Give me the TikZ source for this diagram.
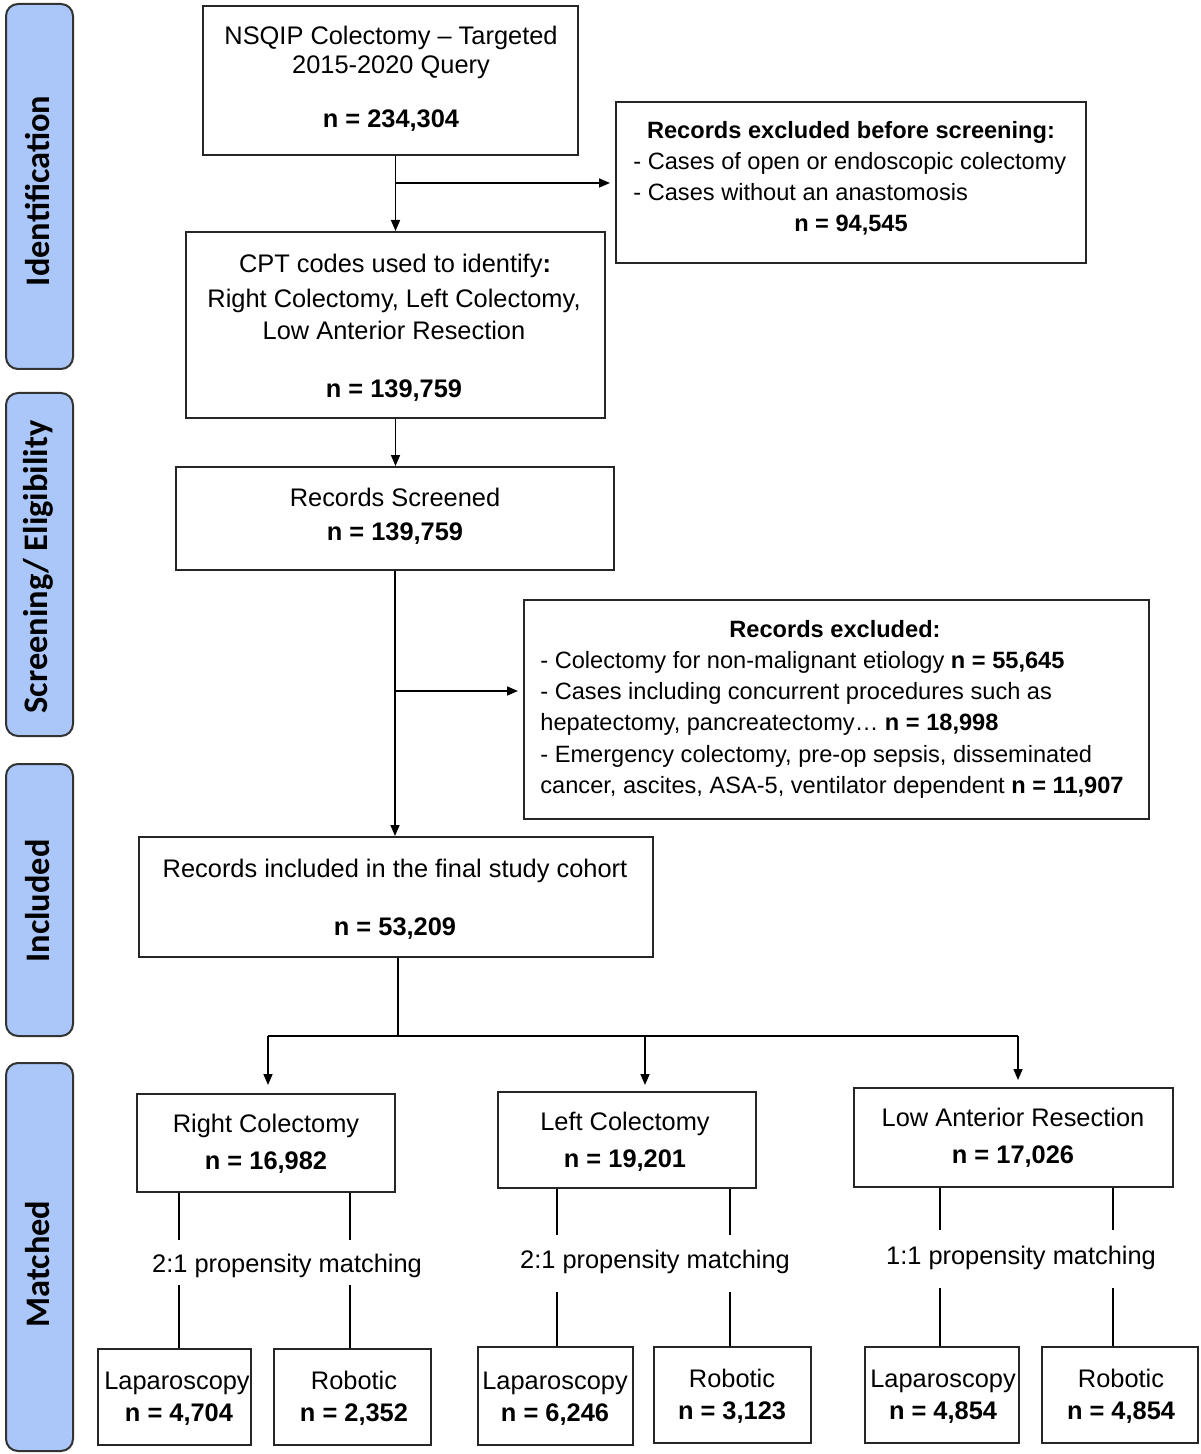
\documentclass[tikz,border=0pt]{standalone}
\usepackage{fontspec}
\setmainfont{Liberation Sans}
\newfontfamily\sidefont{Carlito}
\usetikzlibrary{arrows.meta}
\definecolor{sideblue}{RGB}{171,199,250}
\begin{document}
\begin{tikzpicture}[x=0.5pt,y=-0.5pt,
  box/.style={draw=black!85, line width=1pt, anchor=north west, inner sep=0pt},
  side/.style={draw=black!80, line width=1pt, fill=sideblue, rounded corners=6pt, anchor=north west, inner sep=0pt},
  lbl/.style={anchor=base, inner sep=0pt, font=\fontsize{12.7}{15}\selectfont},
  lbll/.style={lbl, anchor=base west},
  exl/.style={anchor=base, inner sep=0pt, font=\fontsize{11.8}{14}\selectfont},
  exll/.style={exl, anchor=base west},
  sidelbl/.style={rotate=90, inner sep=0pt, font=\sidefont\bfseries\fontsize{17.2}{20}\selectfont},
  arr/.style={-{Triangle[length=5.5pt,width=4.5pt]}, line width=0.8pt},
  ln/.style={line width=0.8pt}]
\useasboundingbox[fill=white] (0,0) rectangle (1200,1454);

% side bars
\node[side, minimum width=33.5pt, minimum height=182.5pt] (s1) at (5,3) {};
\node[side, minimum width=33.5pt, minimum height=171.5pt] (s2) at (5,392) {};
\node[side, minimum width=33.5pt, minimum height=136pt] (s3) at (5,763) {};
\node[side, minimum width=33.5pt, minimum height=194pt] (s4) at (5,1062) {};
\node[sidelbl] (sl1) at (38,191) {Identification};
\node[sidelbl] (sl2) at (38,567) {Screening/ Eligibility};
\node[sidelbl] (sl3) at (38,901) {Included};
\node[sidelbl] (sl4) at (38,1264) {Matched};

% boxes
\node[box, minimum width=187.5pt, minimum height=74.5pt] (b1) at (202,5) {};
\node[box, minimum width=235pt, minimum height=80.5pt] (ex1) at (615,101) {};
\node[box, minimum width=209.5pt, minimum height=93pt] (b2) at (185,231) {};
\node[box, minimum width=219pt, minimum height=51.5pt] (b3) at (175,466) {};
\node[box, minimum width=312.5pt, minimum height=109.5pt] (ex2) at (523,599) {};
\node[box, minimum width=257pt, minimum height=60pt] (b4) at (138,836) {};
\node[box, minimum width=129pt, minimum height=49pt] (r) at (136,1093) {};
\node[box, minimum width=129pt, minimum height=48pt] (l) at (497,1091) {};
\node[box, minimum width=159.5pt, minimum height=49.5pt] (lar) at (853,1087) {};
\node[box, minimum width=76.5pt, minimum height=48pt] (lap1) at (97,1348) {};
\node[box, minimum width=78.5pt, minimum height=48pt] (rob1) at (273,1348) {};
\node[box, minimum width=77.5pt, minimum height=49pt] (lap2) at (477,1346) {};
\node[box, minimum width=78.5pt, minimum height=48pt] (rob2) at (653,1346) {};
\node[box, minimum width=77pt, minimum height=48pt] (lap3) at (864,1346) {};
\node[box, minimum width=78pt, minimum height=48pt] (rob3) at (1041,1346) {};

% texts
\node[lbl] (t1a) at (391,45) {NSQIP Colectomy – Targeted};
\node[lbl] (t1b) at (391,74) {2015-2020 Query};
\node[lbl] (t1c) at (391,128) {\bfseries n = 234,304};

\node[exl] (e1a) at (851,139) {\bfseries Records excluded before screening:};
\node[exll] (e1b) at (633,170) {- Cases of open or endoscopic colectomy};
\node[exll] (e1c) at (633,201) {- Cases without an anastomosis};
\node[exl] (e1d) at (851,232) {\bfseries n = 94,545};

\node[lbl] (t2a) at (395,273) {CPT codes used to identify\textbf{:}};
\node[lbl] (t2b) at (394,308) {Right Colectomy, Left Colectomy,};
\node[lbl] (t2c) at (394,340) {Low Anterior Resection};
\node[lbl] (t2d) at (394,398) {\bfseries n = 139,759};

\node[lbl] (t3a) at (395,506) {Records Screened};
\node[lbl] (t3b) at (395,540) {\bfseries n = 139,759};

\node[exl] (e2a) at (835,637) {\bfseries Records excluded:};
\node[exll] (e2b) at (540,668) {- Colectomy for non-malignant etiology \textbf{n = 55,645}};
\node[exll] (e2c) at (540,699) {- Cases including concurrent procedures such as};
\node[exll] (e2d) at (540,730) {hepatectomy, pancreatectomy… \textbf{n = 18,998}};
\node[exll] (e2e) at (540,762) {- Emergency colectomy, pre-op sepsis, disseminated};
\node[exll] (e2f) at (540,793) {cancer, ascites, ASA-5, ventilator dependent \textbf{n = 11,907}};

\node[lbl] (t4a) at (395,877) {Records included in the final study cohort};
\node[lbl] (t4b) at (395,935) {\bfseries n = 53,209};

\node[lbl] (tra) at (266,1132) {Right Colectomy};
\node[lbl] (trb) at (266,1169) {\bfseries n = 16,982};
\node[lbl] (tla) at (625,1130) {Left Colectomy};
\node[lbl] (tlb) at (625,1167) {\bfseries n = 19,201};
\node[lbl] (tma) at (1013,1126) {Low Anterior Resection};
\node[lbl] (tmb) at (1013,1163) {\bfseries n = 17,026};

\node[lbl] (pm1) at (287,1272) {2:1 propensity matching};
\node[lbl] (pm2) at (655,1268) {2:1 propensity matching};
\node[lbl] (pm3) at (1021,1264) {1:1 propensity matching};

\node[lbl] (p1a) at (177,1389) {Laparoscopy};
\node[lbl] (p1b) at (179,1421) {\bfseries n = 4,704};
\node[lbl] (q1a) at (354,1389) {Robotic};
\node[lbl] (q1b) at (354,1421) {\bfseries n = 2,352};
\node[lbl] (p2a) at (555,1389) {Laparoscopy};
\node[lbl] (p2b) at (555,1421) {\bfseries n = 6,246};
\node[lbl] (q2a) at (732,1387) {Robotic};
\node[lbl] (q2b) at (732,1419) {\bfseries n = 3,123};
\node[lbl] (p3a) at (943,1387) {Laparoscopy};
\node[lbl] (p3b) at (943,1419) {\bfseries n = 4,854};
\node[lbl] (q3a) at (1121,1387) {Robotic};
\node[lbl] (q3b) at (1121,1419) {\bfseries n = 4,854};

% connectors
\draw[arr] (b1.south -| b2.north) -- (b2.north);
\coordinate (j1) at (395,183);
\draw[arr, shorten >=2.5pt] (j1) -- (j1 -| ex1.west);
\draw[arr] (b2.south) -- (b2.south |- b3.north);
\draw[arr] (b3.south) -- (b3.south |- b4.north);
\coordinate (j2) at (395,691);
\draw[arr, shorten >=2.5pt] (j2) -- (j2 -| ex2.west);

\coordinate (j3) at (398,1036);
\draw[ln] (j3 |- b4.south) -- (j3);
\coordinate (a1) at (268,1036);
\coordinate (a2) at (645,1036);
\coordinate (a3) at (1018,1036);
\draw[ln] (a1) -- (a3);
\draw[arr, shorten >=4pt] (a1) -- (a1 |- r.north);
\draw[arr, shorten >=3pt] (a2) -- (a2 |- l.north);
\draw[arr, shorten >=3.5pt] (a3) -- (a3 |- lar.north);

% matching lines
\coordinate (m1) at (179,1240); \coordinate (m2) at (350,1240);
\coordinate (n1) at (179,1285); \coordinate (n2) at (350,1285);
\draw[ln] (m1 |- r.south) -- (m1);
\draw[ln] (m2 |- r.south) -- (m2);
\draw[ln] (n1) -- (n1 |- lap1.north);
\draw[ln] (n2) -- (n2 |- rob1.north);

\coordinate (m3) at (557,1235); \coordinate (m4) at (730,1235);
\coordinate (n3) at (557,1292); \coordinate (n4) at (730,1292);
\draw[ln] (m3 |- l.south) -- (m3);
\draw[ln] (m4 |- l.south) -- (m4);
\draw[ln] (n3) -- (n3 |- lap2.north);
\draw[ln] (n4) -- (n4 |- rob2.north);

\coordinate (m5) at (940,1230); \coordinate (m6) at (1113,1230);
\coordinate (n5) at (940,1288); \coordinate (n6) at (1113,1288);
\draw[ln] (m5 |- lar.south) -- (m5);
\draw[ln] (m6 |- lar.south) -- (m6);
\draw[ln] (n5) -- (n5 |- lap3.north);
\draw[ln] (n6) -- (n6 |- rob3.north);
\end{tikzpicture}
\end{document}
